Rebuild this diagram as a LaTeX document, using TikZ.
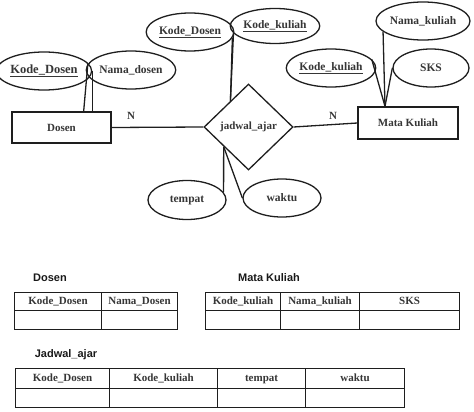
\documentclass[tikz,border=0pt]{standalone}
\usepackage{fontspec}
\setmainfont{Liberation Serif}
\newfontfamily\lsans{Liberation Sans}
\usetikzlibrary{shapes.geometric,calc}
\definecolor{txt}{HTML}{363636}
\definecolor{ln}{HTML}{1E1E1E}
\tikzset{
  every node/.style={text=txt,font=\fontsize{11}{13}\selectfont\bfseries},
  conn/.style={draw=ln,line width=1.3pt},
  ent/.style={draw=ln,line width=1.3pt,rectangle,minimum width=99pt,minimum height=31pt,inner sep=0pt},
  attr/.style={draw=ln,line width=1.3pt,ellipse,minimum width=76pt,minimum height=38pt,inner sep=0pt,font=\fontsize{11.5}{13}\selectfont\bfseries},
  rel/.style={draw=ln,line width=1.3pt,diamond,minimum width=89pt,minimum height=86pt,inner sep=0pt},
  lbl/.style={text=black!90,font=\lsans\fontsize{11}{13}\selectfont\bfseries},
  cell/.style={draw=ln,line width=1.1pt,rectangle,anchor=north west,inner sep=0pt,text height=8pt,text depth=2.5pt},
}
\begin{document}
\begin{tikzpicture}[x=1pt,y=-1pt]
\useasboundingbox (0,0) rectangle (474,412);
% ER diagram
\node[ent] (dosen) at (61.5,127.5) {Dosen};
\node[ent,minimum width=100pt,minimum height=32pt] (mk) at (408,123) {Mata Kuliah};
\node[rel] (dj) at (248.5,127) {jadwal\_ajar};
\node[attr,font=\fontsize{12.5}{14}\selectfont\bfseries] (kd1) at (44,71) {\underline{Kode\_Dosen}};
\node[attr,minimum width=77pt] (nd) at (131,70) {Nama\_dosen};
\node[attr] (kdt) at (190,32) {\underline{Kode\_Dosen}};
\node[attr,minimum width=75pt,minimum height=35pt] (kkt) at (275,26) {\underline{Kode\_kuliah}};
\node[attr,minimum width=82pt] (nk) at (423,21) {Nama\_kuliah};
\node[attr] (kkr) at (331,68) {\underline{Kode\_kuliah}};
\node[attr] (sks) at (431,68) {SKS};
\node[attr,minimum width=78pt,minimum height=39pt] (tempat) at (187,200) {tempat};
\node[attr,minimum width=78pt] (waktu) at (282,198) {waktu};
\node (n1) at (131,116) {N};
\node (n2) at (333,116) {N};
% connectors
\coordinate (dtop) at ([xshift=-28pt]dosen.north east);
\coordinate (mtop) at ([xshift=-23pt]mk.north);
\coordinate (djtop) at ($(dj.west)!0.6!(dj.north)$);
\coordinate (djbot) at ($(dj.west)!0.45!(dj.south)$);
\draw[conn] (dosen.east) -- (dj.west);
\draw[conn] (dj.east) -- (mk.west);
\draw[conn] (dtop) -- (kd1.east |- dtop) -- (kd1.east);
\draw[conn] (dtop) -- (nd.172);
\draw[conn] (djtop) -- (kdt.-8);
\draw[conn] (djtop) -- (kkt.190);
\draw[conn] (djbot) -- (tempat.12);
\draw[conn] (djbot) -- (waktu.west);
\draw[conn] (mtop) -- (kkr.12);
\draw[conn] (mtop) -- (nk.195);
\draw[conn] (mtop) -- (sks.west);
% tables
\node[lbl] (tdl) at (50,278) {Dosen};
\node[cell,minimum width=87pt,minimum height=18pt] (d11) at (14,292) {Kode\_Dosen};
\node[cell,minimum width=76pt,minimum height=18pt] (d12) at (101,292) {Nama\_Dosen};
\node[cell,minimum width=87pt,minimum height=19pt] (d21) at (14,310) {};
\node[cell,minimum width=76pt,minimum height=19pt] (d22) at (101,310) {};
\node[lbl] (tml) at (269,278) {Mata Kuliah};
\node[cell,minimum width=75pt,minimum height=18pt] (m11) at (205,292) {Kode\_kuliah};
\node[cell,minimum width=79pt,minimum height=18pt] (m12) at (280,292) {Nama\_kuliah};
\node[cell,minimum width=100pt,minimum height=18pt] (m13) at (359,292) {SKS};
\node[cell,minimum width=75pt,minimum height=19pt] (m21) at (205,310) {};
\node[cell,minimum width=79pt,minimum height=19pt] (m22) at (280,310) {};
\node[cell,minimum width=100pt,minimum height=19pt] (m23) at (359,310) {};
\node[lbl] (tjl) at (66,355) {Jadwal\_ajar};
\node[cell,minimum width=94pt,minimum height=20pt] (j11) at (15,368) {Kode\_Dosen};
\node[cell,minimum width=108pt,minimum height=20pt] (j12) at (109,368) {Kode\_kuliah};
\node[cell,minimum width=88pt,minimum height=20pt] (j13) at (217,368) {tempat};
\node[cell,minimum width=99pt,minimum height=20pt] (j14) at (305,368) {waktu};
\node[cell,minimum width=94pt,minimum height=19pt] (j21) at (15,388) {};
\node[cell,minimum width=108pt,minimum height=19pt] (j22) at (109,388) {};
\node[cell,minimum width=88pt,minimum height=19pt] (j23) at (217,388) {};
\node[cell,minimum width=99pt,minimum height=19pt] (j24) at (305,388) {};
\end{tikzpicture}
\end{document}
